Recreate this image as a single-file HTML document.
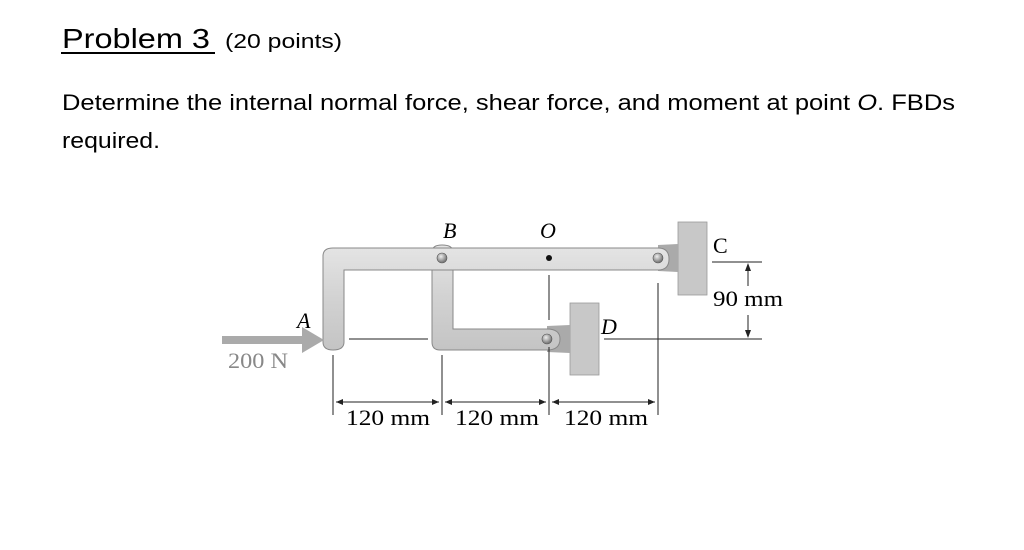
<!DOCTYPE html>
<html><head><meta charset="utf-8"><style>html,body{margin:0;padding:0;background:#fff;}svg{display:block}</style></head>
<body>
<svg width="1024" height="550" viewBox="0 0 1024 550" xmlns="http://www.w3.org/2000/svg">
<defs>
<linearGradient id="g" x1="0" y1="0" x2="0" y2="1"><stop offset="0" stop-color="#e4e4e4"/><stop offset="0.5" stop-color="#d2d2d2"/><stop offset="1" stop-color="#c4c4c4"/></linearGradient>
<radialGradient id="p" cx="0.4" cy="0.35" r="0.6"><stop offset="0" stop-color="#eee"/><stop offset="1" stop-color="#777"/></radialGradient>
</defs>
<g font-family="'Liberation Sans',sans-serif" fill="#000">
<text x="62" y="48" font-size="28" textLength="148" lengthAdjust="spacingAndGlyphs">Problem 3</text>
<rect x="61" y="52" width="154" height="2"/>
<text x="225" y="48" font-size="20" textLength="117" lengthAdjust="spacingAndGlyphs">(20 points)</text>
<text x="62" y="110" font-size="22" textLength="893" lengthAdjust="spacingAndGlyphs">Determine the internal normal force, shear force, and moment at point <tspan font-style="italic">O</tspan>.   FBDs</text>
<text x="62" y="148" font-size="22" textLength="98" lengthAdjust="spacingAndGlyphs">required.</text>
</g>
<!-- walls -->
<rect x="678" y="222" width="29" height="73" fill="#c8c8c8" stroke="#999" stroke-width="0.8"/>
<rect x="570" y="303" width="29" height="72" fill="#c8c8c8" stroke="#999" stroke-width="0.8"/>
<!-- links -->
<path d="M658 245 L678 244 L678 272 L658 271 Z" fill="#aaa"/>
<path d="M547 326 L570 325 L570 353 L547 352 Z" fill="#aaa"/>
<!-- second piece -->
<path d="M432 252 Q432 245 442 245 Q453 245 453 252 L453 329 L547 329 Q560 329 560 339 Q560 350 547 350 L440 350 Q432 350 432 342 Z" fill="url(#g)" stroke="#888" stroke-width="1"/>
<!-- top L piece -->
<path d="M323 256 Q323 248 333 248 L658 248 Q669 248 669 259 Q669 270 658 270 L344 270 L344 342 Q344 350 333 350 Q323 350 323 342 Z" fill="url(#g)" stroke="#888" stroke-width="1"/>
<!-- pins -->
<circle cx="442" cy="258" r="5" fill="url(#p)" stroke="#555" stroke-width="0.6"/>
<circle cx="658" cy="258" r="5" fill="url(#p)" stroke="#555" stroke-width="0.6"/>
<circle cx="547" cy="339" r="5" fill="url(#p)" stroke="#555" stroke-width="0.6"/>
<circle cx="549" cy="258" r="3" fill="#111"/>
<!-- lines -->
<g stroke="#222" stroke-width="1" fill="none">
<line x1="349" y1="339" x2="428" y2="339"/>
<line x1="604" y1="339" x2="762" y2="339"/>
<line x1="712" y1="262" x2="762" y2="262"/>
<line x1="549" y1="275" x2="549" y2="320"/>
<line x1="333" y1="355" x2="333" y2="415"/>
<line x1="442" y1="355" x2="442" y2="415"/>
<line x1="549" y1="347" x2="549" y2="415"/>
<line x1="658" y1="283" x2="658" y2="415"/>
<line x1="336" y1="402" x2="439" y2="402"/>
<line x1="445" y1="402" x2="546" y2="402"/>
<line x1="552" y1="402" x2="655" y2="402"/>
<line x1="748" y1="266" x2="748" y2="286"/>
<line x1="748" y1="315" x2="748" y2="335"/>
</g>
<g fill="#222">
<path d="M336 402 l7 -3 v6z"/><path d="M439 402 l-7 -3 v6z"/>
<path d="M445 402 l7 -3 v6z"/><path d="M546 402 l-7 -3 v6z"/>
<path d="M552 402 l7 -3 v6z"/><path d="M655 402 l-7 -3 v6z"/>
<path d="M748 263 l-3 8 h6z"/><path d="M748 338 l-3 -8 h6z"/>
</g>
<!-- force -->
<rect x="222" y="336" width="84" height="8" fill="#aaa"/>
<path d="M302 327 L324 340 L302 353 Z" fill="#aaa"/>
<g font-family="'Liberation Serif',serif" font-size="22">
<text x="228" y="368" fill="#888" textLength="60" lengthAdjust="spacingAndGlyphs">200 N</text>
<text x="297" y="328" font-style="italic">A</text>
<text x="443" y="238" font-style="italic">B</text>
<text x="540" y="238" font-style="italic">O</text>
<text x="713" y="253">C</text>
<text x="601" y="334" font-style="italic">D</text>
<text x="713" y="306" textLength="70" lengthAdjust="spacingAndGlyphs">90 mm</text>
<text x="346" y="425" textLength="84" lengthAdjust="spacingAndGlyphs">120 mm</text>
<text x="455" y="425" textLength="84" lengthAdjust="spacingAndGlyphs">120 mm</text>
<text x="564" y="425" textLength="84" lengthAdjust="spacingAndGlyphs">120 mm</text>
</g>
</svg>
</body></html>
